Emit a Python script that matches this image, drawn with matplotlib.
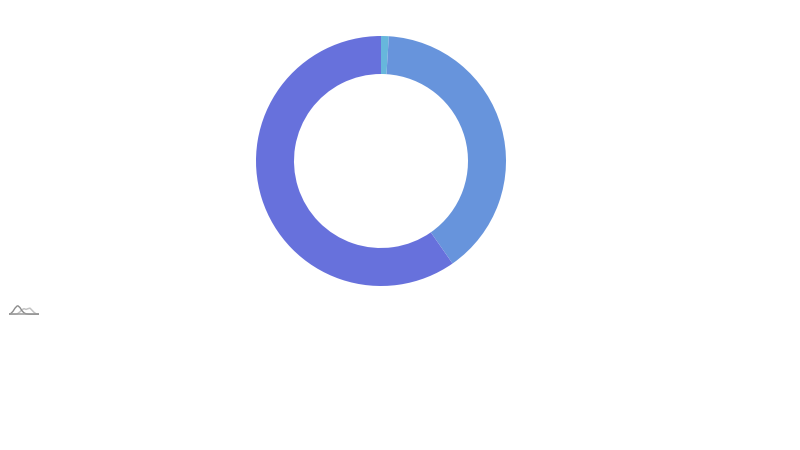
import matplotlib
matplotlib.use('Agg')
import matplotlib.pyplot as plt

# slice shares, clockwise from the top
shares = [1.0, 39.3, 59.7]
colors = ['#67B7DC', '#6794DC', '#6771DC']

# little logo curves, bottom left
logo_x = [0, 2, 4, 6, 8, 9, 11, 13, 15, 17, 19, 21, 23, 25, 27, 30]
logo_dark = [0.3, 1, 3, 6, 8, 8.2, 6.5, 3.5, 1.5, 0.6, 0.3, 0.2, 0.2, 0.2, 0.2, 0.2]
logo_light = [0.2, 0.2, 0.2, 0.2, 0.5, 1, 2.5, 4.5, 5.5, 4.8, 5.5, 6, 4, 2, 0.6, 0.2]
logo_base = [0.2] * len(logo_x)

fig = plt.figure(figsize=(8, 4.5), dpi=100)
ax = fig.add_axes([0, 0, 1, 1])
ax.pie(shares, colors=colors, startangle=90, counterclock=False,
       center=(381, 289), radius=125, frame=True,
       wedgeprops=dict(width=38, edgecolor='none'))
ax.set_xlim(0, 800)
ax.set_ylim(0, 450)
ax.axis('off')

logo = fig.add_axes([9 / 800, (450 - 316) / 450, 30 / 800, 11 / 450])
logo.plot(logo_x, logo_light, color='#c4c4c4', lw=1.1)
logo.plot(logo_x, logo_dark, color='#8c8c8c', lw=1.0)
logo.plot(logo_x, logo_base, color='#9a9a9a', lw=1.1)
logo.set_xlim(0, 30)
logo.set_ylim(-1.5, 9)
logo.axis('off')

fig.savefig('out.png', dpi=100)
